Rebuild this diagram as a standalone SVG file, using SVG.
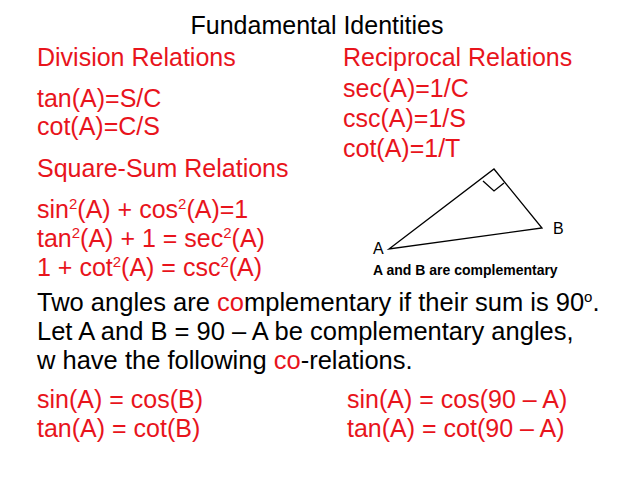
<svg xmlns="http://www.w3.org/2000/svg" width="638" height="478" viewBox="0 0 638 478">
<style>
text{font-family:"Liberation Sans",Arial,sans-serif}
.r{fill:#e8141c;font-size:25px}
.k{fill:#000;font-size:25.5px}
.s{font-size:15px}
</style>
<rect width="638" height="478" fill="#fff"/>
<text x="317" y="34" text-anchor="middle" class="k" style="font-size:25px">Fundamental Identities</text>
<g class="r">
<text x="37" y="66" class="r">Division Relations</text>
<text x="37" y="107" class="r">tan(A)=S/C</text>
<text x="37" y="135" class="r">cot(A)=C/S</text>
<text x="37" y="177" class="r">Square-Sum Relations</text>
<text x="37" y="218" class="r">sin<tspan class="s" dy="-9">2</tspan><tspan dy="9">(A) + cos</tspan><tspan class="s" dy="-9">2</tspan><tspan dy="9">(A)=1</tspan></text>
<text x="37" y="247" class="r">tan<tspan class="s" dy="-9">2</tspan><tspan dy="9">(A) + 1 = sec</tspan><tspan class="s" dy="-9">2</tspan><tspan dy="9">(A)</tspan></text>
<text x="37" y="276" class="r">1 + cot<tspan class="s" dy="-9">2</tspan><tspan dy="9">(A) = csc</tspan><tspan class="s" dy="-9">2</tspan><tspan dy="9">(A)</tspan></text>
<text x="343" y="66" class="r">Reciprocal Relations</text>
<text x="343" y="97" class="r">sec(A)=1/C</text>
<text x="343" y="127" class="r">csc(A)=1/S</text>
<text x="343" y="157" class="r">cot(A)=1/T</text>
</g>
<g id="triangle" fill="none" stroke="#000" stroke-width="1.3">
<polygon points="389,249 494,169 542,228"/>
<polyline points="483,181 494,191 504,183"/>
</g>
<text x="373" y="254" style="font-size:16px">A</text>
<text x="553" y="234" style="font-size:16px">B</text>
<text x="373" y="275" style="font-size:14px;font-weight:bold">A and B are complementary</text>
<text x="37" y="311" class="k">Two angles are <tspan fill="#e8141c">co</tspan>mplementary if their sum is 90<tspan class="s" dy="-9">o</tspan><tspan dy="9">.</tspan></text>
<text x="37" y="340" class="k">Let A and B = 90 – A be complementary angles,</text>
<text x="37" y="369" class="k">w have the following <tspan fill="#e8141c">co</tspan>-relations.</text>
<text x="37" y="408" class="r">sin(A) = cos(B)</text>
<text x="37" y="437" class="r">tan(A) = cot(B)</text>
<text x="347" y="408" class="r">sin(A) = cos(90 – A)</text>
<text x="347" y="437" class="r">tan(A) = cot(90 – A)</text>
</svg>
